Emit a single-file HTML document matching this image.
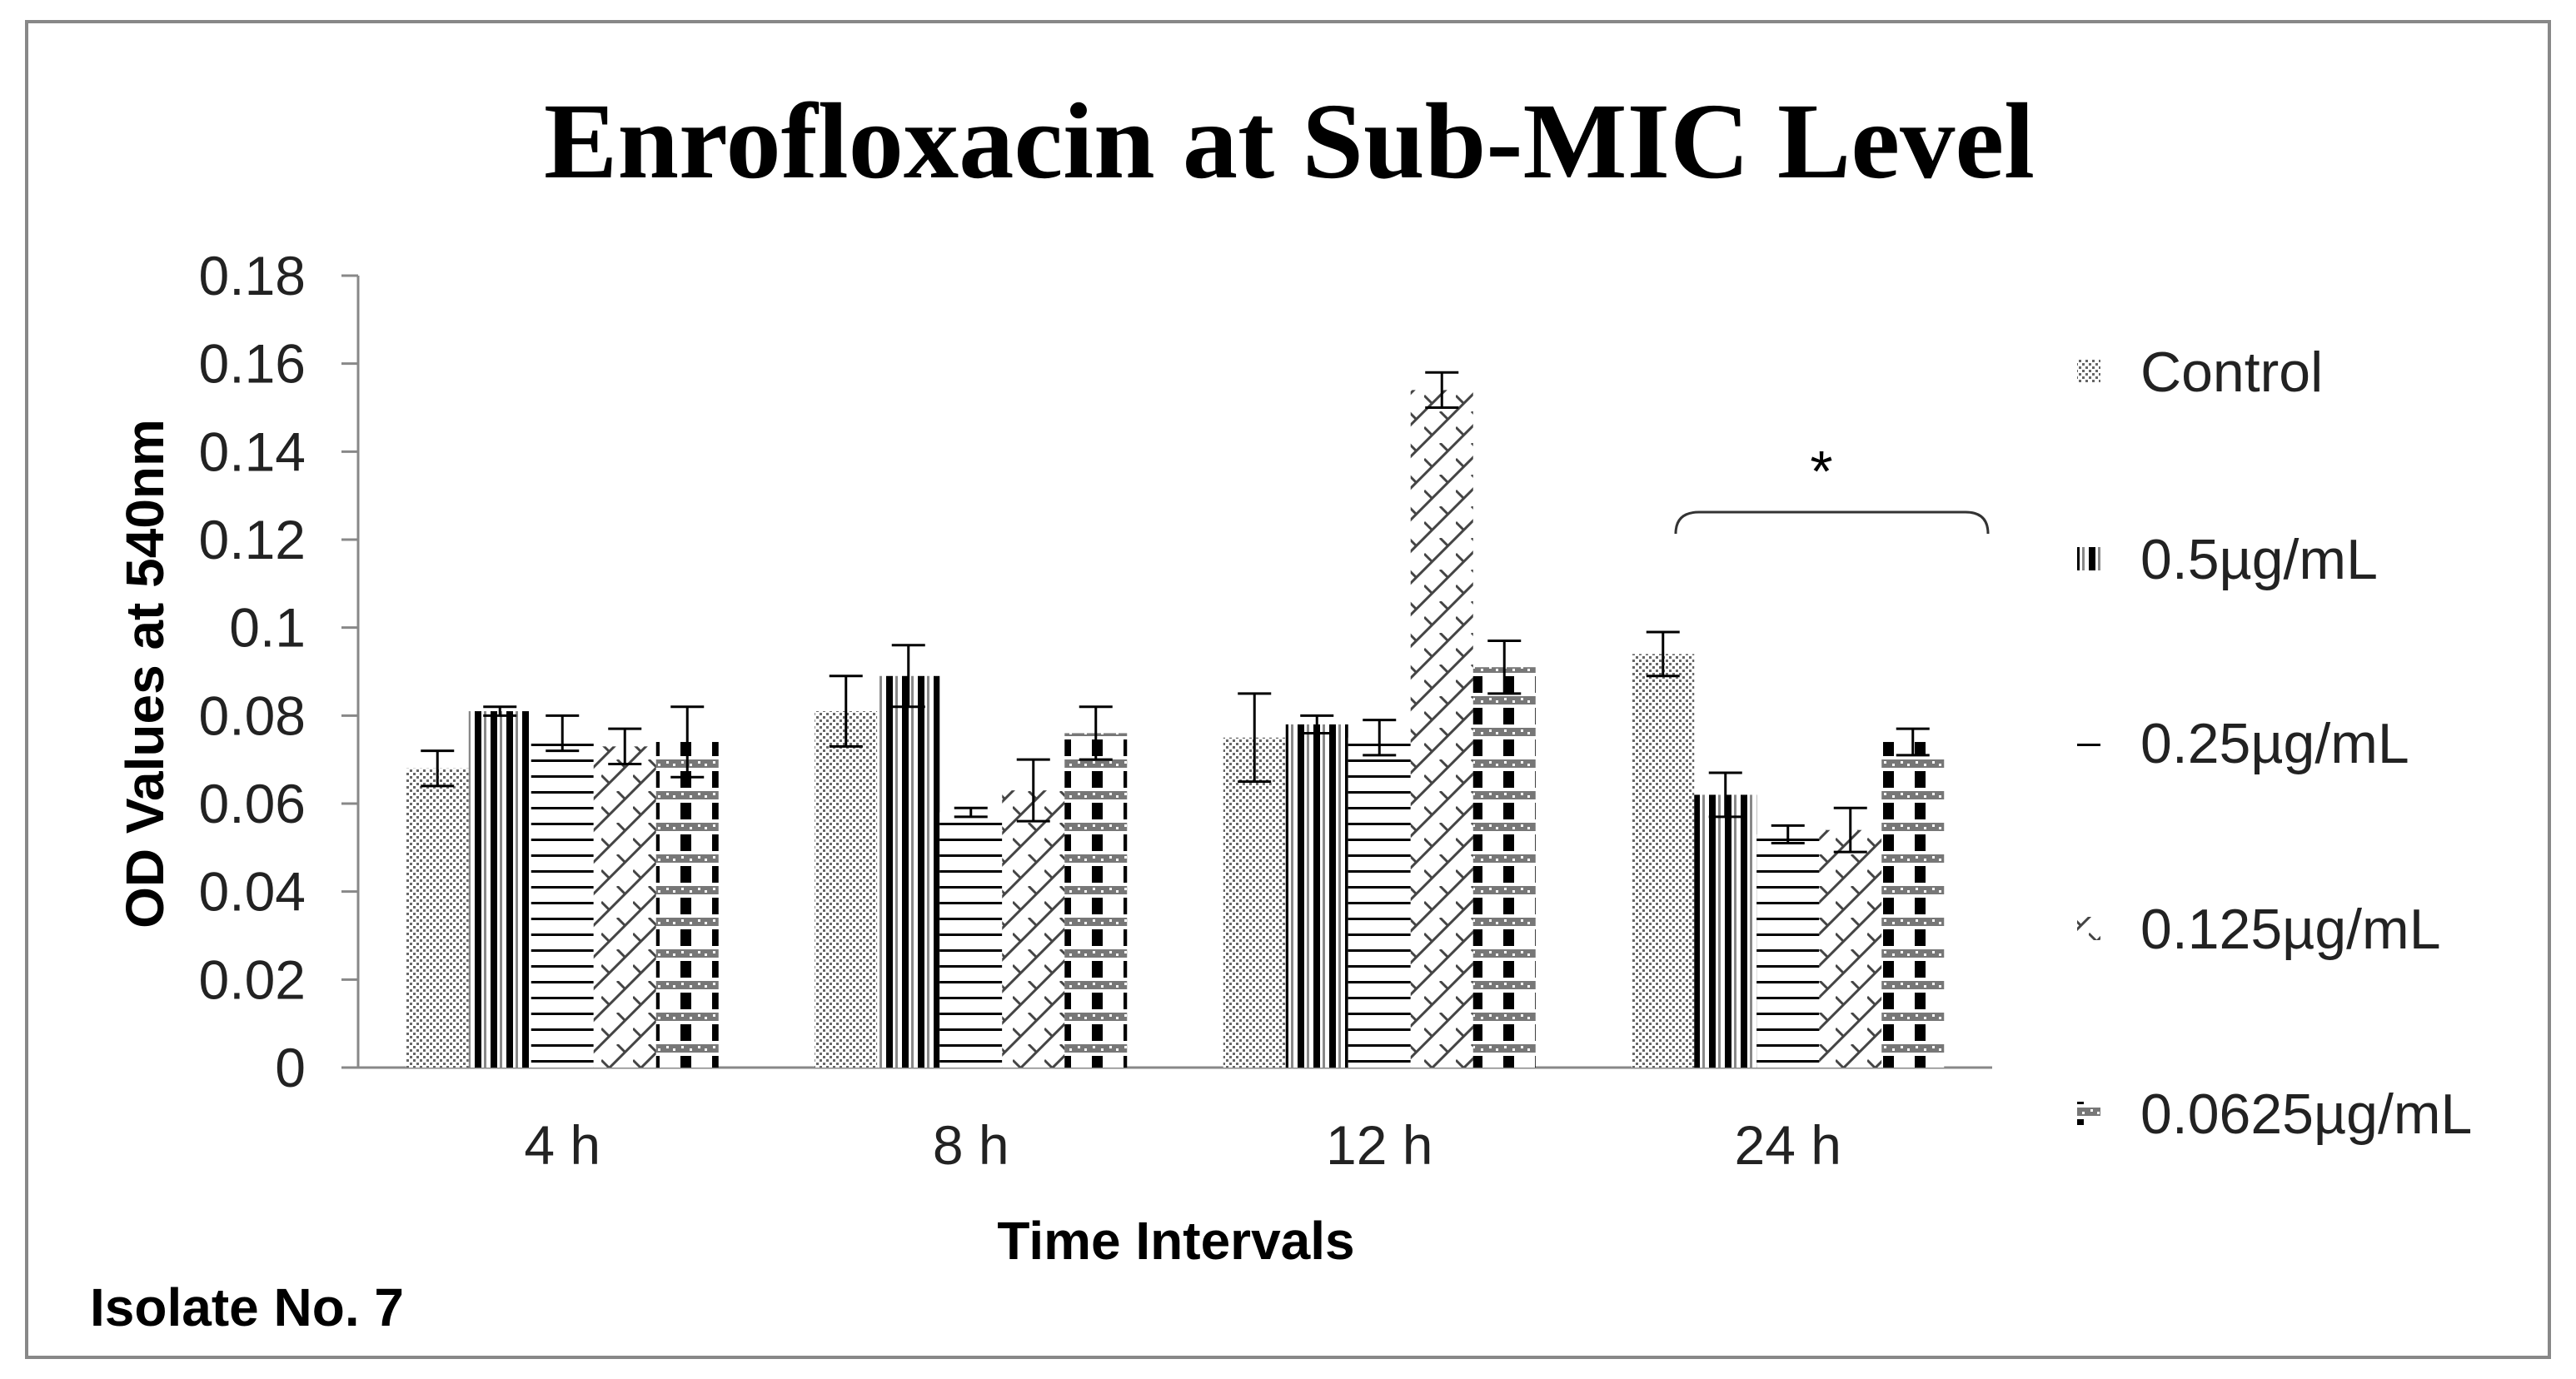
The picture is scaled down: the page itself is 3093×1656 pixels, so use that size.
<!DOCTYPE html>
<html><head><meta charset="utf-8"><style>
html,body{margin:0;padding:0;background:#fff;}
svg{display:block;}
text{font-family:"Liberation Sans",sans-serif;}
</style></head><body>
<svg id="chart" width="3093" height="1656" viewBox="0 0 3093 1656" xmlns="http://www.w3.org/2000/svg">
<defs>
<pattern id="p0" width="8" height="8" patternUnits="userSpaceOnUse">
<rect width="8" height="8" fill="#fff"/><rect x="0" y="0" width="3" height="3" fill="#666"/><rect x="4" y="4" width="3" height="3" fill="#666"/>
</pattern>
<pattern id="p1" width="19" height="10" patternUnits="userSpaceOnUse">
<rect width="19" height="10" fill="#fff"/><rect x="0" y="0" width="8" height="10" fill="#000"/><rect x="11" y="0" width="3" height="10" fill="#888"/>
</pattern>
<pattern id="p2" width="10" height="19" patternUnits="userSpaceOnUse">
<rect width="10" height="19" fill="#fff"/><rect x="0" y="0" width="10" height="3" fill="#000"/>
</pattern>
<pattern id="p3" width="38" height="38" patternUnits="userSpaceOnUse">
<rect width="38" height="38" fill="#fff"/>
<path d="M0,38 L38,0 M-10,10 L10,-10 M28,48 L48,28" stroke="#444" stroke-width="3"/>
<path d="M0,19 L10,29 M19,0 L29,10" stroke="#444" stroke-width="3"/>
</pattern>
<pattern id="p4" width="38" height="38" patternUnits="userSpaceOnUse">
<rect width="38" height="38" fill="#fff"/>
<rect x="0" y="0" width="38" height="10" fill="#777"/>
<rect x="2" y="2" width="3" height="3" fill="#fff"/><rect x="10" y="5" width="3" height="3" fill="#fff"/><rect x="20" y="2" width="3" height="3" fill="#fff"/><rect x="30" y="5" width="3" height="3" fill="#fff"/>
<rect x="19" y="14" width="13" height="20" fill="#000"/>
</pattern>
</defs>
<rect x="32" y="26" width="3029" height="1604" fill="#fff" stroke="#888" stroke-width="4"/>
<text x="1548" y="213" text-anchor="middle" style="font-family:'Liberation Serif',serif" font-weight="bold" font-size="130" textLength="1790" lengthAdjust="spacingAndGlyphs">Enrofloxacin at Sub-MIC Level</text>
<g id="axes"></g>
<g id="bars"></g>
<text transform="translate(196,809) rotate(-90)" text-anchor="middle" font-weight="bold" font-size="64">OD  Values at 540nm</text>
<text x="1412" y="1512" text-anchor="middle" font-weight="bold" font-size="64">Time Intervals</text>
<text x="108" y="1592" font-weight="bold" font-size="64">Isolate No. 7</text>
<path d="M2012,641 Q2012,615 2040,615 L2360,615 Q2387,615 2387,641" fill="none" stroke="#333" stroke-width="3"/>
<text x="2187" y="590" text-anchor="middle" font-size="70">*</text>
<g id="legend"></g>
</svg>
<script>
const categories = ["4 h", "8 h", "12 h", "24 h"];
const seriesNames = ["Control", "0.5µg/mL", "0.25µg/mL", "0.125µg/mL", "0.0625µg/mL"];
const control = [0.068, 0.081, 0.075, 0.094];
const conc05 = [0.081, 0.089, 0.078, 0.062];
const conc025 = [0.076, 0.058, 0.075, 0.053];
const conc0125 = [0.073, 0.063, 0.154, 0.054];
const conc00625 = [0.074, 0.076, 0.091, 0.074];
const errControl = [0.004, 0.008, 0.010, 0.005];
const err05 = [0.001, 0.007, 0.002, 0.005];
const err025 = [0.004, 0.001, 0.004, 0.002];
const err0125 = [0.004, 0.007, 0.004, 0.005];
const err00625 = [0.008, 0.006, 0.006, 0.003];
const yTicks = [0, 0.02, 0.04, 0.06, 0.08, 0.1, 0.12, 0.14, 0.16, 0.18];
const yTickLabels = ["0", "0.02", "0.04", "0.06", "0.08", "0.1", "0.12", "0.14", "0.16", "0.18"];

const NS = "http://www.w3.org/2000/svg";
const X0 = 430, X1 = 2392, Y0 = 1282, YT = 331, YMAX = 0.18;
const y = v => Y0 - (v / YMAX) * (Y0 - YT);
const bandW = (X1 - X0) / categories.length;
const xc = i => X0 + bandW * (i + 0.5);
const barW = 75;
function mk(tag, attrs, parent) {
  const e = document.createElementNS(NS, tag);
  for (const k in attrs) e.setAttribute(k, attrs[k]);
  parent.appendChild(e);
  return e;
}
const axes = document.getElementById("axes");
const yAxis = mk("line", {x1: X0, y1: YT, x2: X0, y2: Y0, stroke: "#888", "stroke-width": 3}, axes);


const xAxis = mk("line", {x1: X0 - 20, y1: Y0, x2: X1, y2: Y0, stroke: "#888", "stroke-width": 3}, axes);


yTicks.forEach((t, i) => {
  const tk = mk("line", {x1: X0 - 20, y1: y(t), x2: X0, y2: y(t), stroke: "#888", "stroke-width": 3}, axes);
  
  
  const lb = mk("text", {x: 367, y: y(t) + 23, "text-anchor": "end", "font-size": 66, fill: "#222"}, axes);
  lb.textContent = yTickLabels[i];
  
  
});
categories.forEach((c, i) => {
  const lb = mk("text", {x: xc(i), y: 1398, "text-anchor": "middle", "font-size": 66, fill: "#222"}, axes);
  lb.textContent = c;
  
  
});
const series = [control, conc05, conc025, conc0125, conc00625];
const errs = [errControl, err05, err025, err0125, err00625];
const bars = document.getElementById("bars");
series.forEach((vals, s) => {
  vals.forEach((v, i) => {
    const bx = xc(i) - barW * 2.5 + s * barW;
    const r = mk("rect", {x: bx, y: y(v), width: barW, height: Y0 - y(v), fill: "url(#p" + s + ")"}, bars);
    
    
    const cx = bx + barW / 2, e = errs[s][i];
    const eb = mk("path", {d: `M${cx},${y(v + e)} L${cx},${y(v - e)} M${cx - 20},${y(v + e)} L${cx + 20},${y(v + e)} M${cx - 20},${y(v - e)} L${cx + 20},${y(v - e)}`, stroke: "#000", "stroke-width": 3, fill: "none"}, bars);
    
    
  });
});
const legend = document.getElementById("legend");
const legY = [446, 671, 892, 1115, 1337];
seriesNames.forEach((n, s) => {
  const sw = mk("rect", {x: 2494, y: legY[s] - 14, width: 28, height: 28, fill: "url(#p" + s + ")"}, legend);
  
  
  const t = mk("text", {x: 2570, y: legY[s] + 24, "font-size": 68, fill: "#222"}, legend);
  t.textContent = n;
  
  
});
</script>
</body></html>
